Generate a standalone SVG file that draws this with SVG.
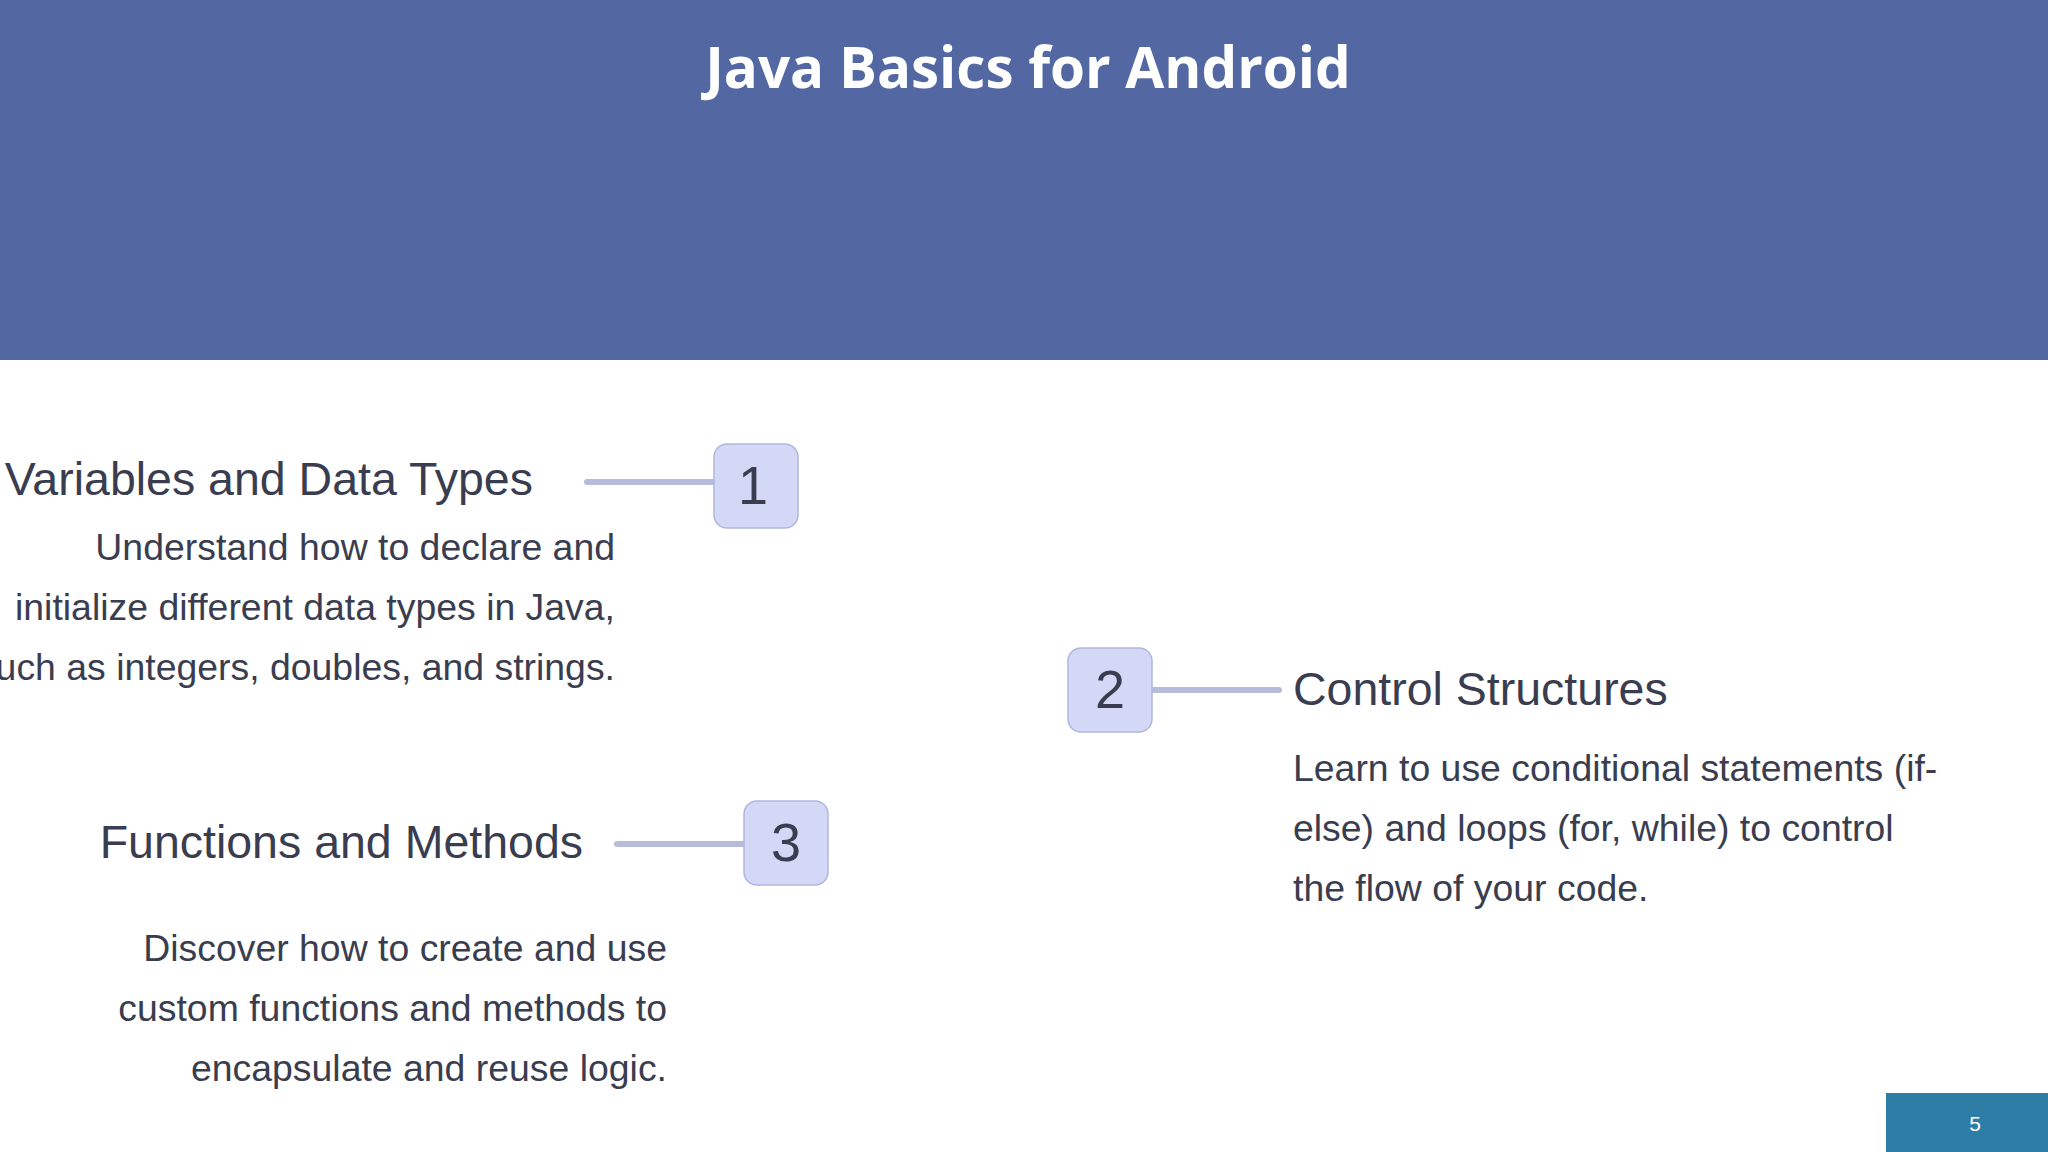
<svg xmlns="http://www.w3.org/2000/svg" width="2048" height="1152" viewBox="0 0 2048 1152">
<style>
.t{font-family:"Liberation Sans",Arial,sans-serif;fill:#3A3D4F}
.h{font-size:46.5px}
.d{font-size:37.4px}
.n{font-size:54px;text-anchor:middle}
.box{fill:#D4D8F7;stroke:#B0B6E0;stroke-width:1.5}
.c{stroke:#B8BCDB;stroke-width:6;stroke-linecap:round}
</style>
<rect width="2048" height="1152" fill="#fff"/>
<rect width="2048" height="360" fill="#5368A3"/>
<text x="1028" y="88" text-anchor="middle" font-family="'Open Sans',sans-serif" font-weight="bold" font-size="56.5" fill="#fff">Java Basics for Android</text>
<g id="connectors">
<line class="c" x1="587" y1="482" x2="714" y2="482"/>
<line class="c" x1="1152" y1="690" x2="1279" y2="690"/>
<line class="c" x1="617" y1="844" x2="744" y2="844"/>
</g>
<g id="node1">
<rect class="box" x="714" y="444" width="84" height="84" rx="13"/>
<text class="t n" x="753" y="504">1</text>
<text class="t h" x="533" y="495" text-anchor="end">Variables and Data Types</text>
<text class="t d" text-anchor="end"><tspan x="615" y="560">Understand how to declare and</tspan><tspan x="615" y="620">initialize different data types in Java,</tspan><tspan x="615" y="680">such as integers, doubles, and strings.</tspan></text>
</g>
<g id="node2">
<rect class="box" x="1068" y="648" width="84" height="84" rx="13"/>
<text class="t n" x="1110" y="708">2</text>
<text class="t h" x="1293" y="705">Control Structures</text>
<text class="t d"><tspan x="1293" y="781">Learn to use conditional statements (if-</tspan><tspan x="1293" y="841">else) and loops (for, while) to control</tspan><tspan x="1293" y="901">the flow of your code.</tspan></text>
</g>
<g id="node3">
<rect class="box" x="744" y="801" width="84" height="84" rx="13"/>
<text class="t n" x="786" y="861">3</text>
<text class="t h" x="583" y="858" text-anchor="end">Functions and Methods</text>
<text class="t d" text-anchor="end"><tspan x="667" y="961">Discover how to create and use</tspan><tspan x="667" y="1021">custom functions and methods to</tspan><tspan x="667" y="1081">encapsulate and reuse logic.</tspan></text>
</g>
<g id="page">
<rect x="1886" y="1093" width="162" height="59" fill="#2E7DA6"/>
<text x="1975" y="1131" text-anchor="middle" font-family="'Liberation Sans',sans-serif" font-size="21" fill="#fff">5</text>
</g>
</svg>
